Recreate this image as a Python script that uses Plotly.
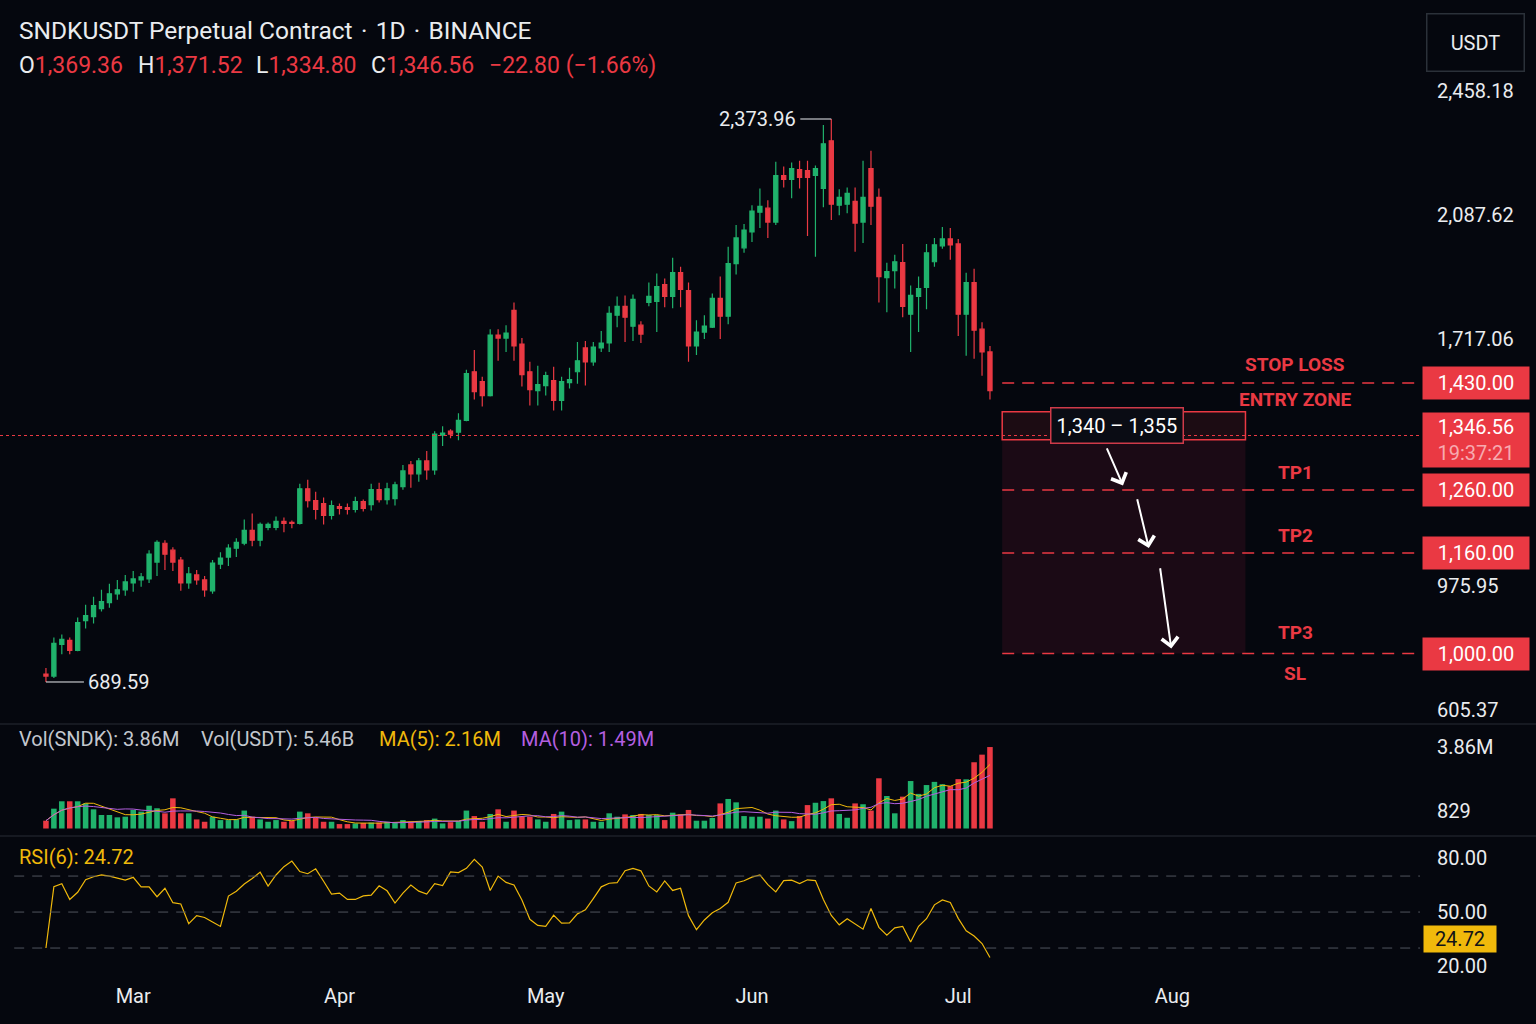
import plotly.graph_objects as go
import pandas as pd

# ------------------------------------------------------------------
# data
# ------------------------------------------------------------------

# daily candles, no trading on Sundays; candles sit at noon so the
# Sunday break never cuts a Monday body in half
dates = pd.bdate_range("2026-02-17", "2026-07-06", freq="C",
                       weekmask="Mon Tue Wed Thu Fri Sat") + pd.Timedelta(hours=12)

opens = [
    713.3, 707.4, 802.3, 814.1, 784.4, 873.4, 885.3, 909.1, 926.8, 953.5,
    965.4, 986.1, 995.0, 998.0, 1048.4, 1104.7, 1084.0, 1054.3, 986.1, 1009.8,
    995.0, 962.4, 1042.5, 1063.2, 1089.9, 1104.7, 1143.3, 1113.6, 1152.2, 1152.2,
    1170.0, 1167.1, 1164.1, 1267.8, 1232.3, 1223.4, 1187.8, 1214.5, 1211.5, 1205.6,
    1229.3, 1220.4, 1264.9, 1235.3, 1238.2, 1273.8, 1339.0, 1312.4, 1350.9, 1324.2,
    1428.1, 1439.9, 1437.0, 1472.5, 1617.8, 1588.1, 1546.6, 1727.5, 1718.6, 1801.6,
    1700.8, 1617.8, 1561.5, 1576.3, 1591.1, 1531.8, 1585.2, 1617.8, 1689.0, 1647.4,
    1689.0, 1703.8, 1786.8, 1813.5, 1754.2, 1757.2, 1825.3, 1828.3, 1878.7, 1843.1,
    1914.3, 1860.9, 1694.9, 1736.4, 1751.2, 1837.2, 1783.9, 1941.0, 1988.4, 2035.9,
    2095.2, 2107.1, 2065.6, 2204.9, 2193.1, 2222.7, 2219.8, 2204.9, 2166.4, 2308.7,
    2116.0, 2119.0, 2127.8, 2065.6, 2225.7, 2139.7, 1899.5, 1920.3, 1944.0, 1789.8,
    1843.1, 1869.8, 1946.9, 1994.4, 2015.2, 2000.3, 1789.8, 1884.7, 1745.3, 1677.1,
]
highs = [
    731.1, 823.0, 831.9, 823.0, 882.3, 920.9, 944.6, 965.4, 983.2, 995.0,
    1009.8, 1021.7, 1015.8, 1084.0, 1113.6, 1113.6, 1092.9, 1063.2, 1033.6, 1024.7,
    1006.9, 1054.3, 1078.1, 1101.8, 1119.6, 1176.0, 1193.7, 1167.1, 1167.1, 1184.9,
    1181.9, 1173.0, 1282.7, 1294.6, 1259.0, 1241.2, 1232.3, 1223.4, 1223.4, 1244.1,
    1235.3, 1282.7, 1285.6, 1285.6, 1288.6, 1339.0, 1350.9, 1359.8, 1380.5, 1439.9,
    1454.7, 1445.8, 1493.3, 1623.7, 1683.0, 1603.0, 1745.3, 1745.3, 1757.2, 1825.3,
    1718.6, 1647.4, 1635.6, 1617.8, 1632.6, 1603.0, 1629.7, 1706.8, 1709.7, 1706.8,
    1739.4, 1813.5, 1843.1, 1846.1, 1849.1, 1769.0, 1884.7, 1911.4, 1896.6, 1958.8,
    1932.1, 1884.7, 1772.0, 1786.8, 1852.1, 1902.5, 1991.4, 2056.7, 2059.6, 2116.0,
    2166.4, 2130.8, 2246.4, 2231.6, 2243.5, 2249.4, 2249.4, 2234.6, 2356.2, 2373.96,
    2163.5, 2169.3, 2169.3, 2249.4, 2279.1, 2166.4, 1944.0, 1967.7, 2000.3, 1875.8,
    1902.5, 2000.3, 2018.1, 2050.7, 2047.8, 2015.2, 1914.3, 1926.1, 1766.0, 1694.9,
]
lows = [
    689.59, 701.5, 772.6, 772.6, 781.5, 849.7, 864.5, 900.2, 912.0, 935.7,
    947.6, 959.5, 974.3, 986.1, 1006.9, 1024.7, 1021.7, 962.4, 968.4, 980.2,
    944.6, 953.5, 1027.7, 1036.6, 1063.2, 1098.8, 1095.9, 1095.9, 1143.3, 1143.3,
    1137.4, 1149.3, 1161.1, 1211.5, 1176.0, 1161.1, 1176.0, 1190.8, 1190.8, 1196.7,
    1199.7, 1202.6, 1226.4, 1220.4, 1217.5, 1264.9, 1270.8, 1288.6, 1294.6, 1309.4,
    1395.4, 1419.1, 1413.2, 1469.6, 1534.7, 1514.0, 1543.6, 1650.4, 1677.1, 1650.4,
    1573.3, 1517.0, 1517.0, 1546.6, 1502.1, 1502.1, 1567.4, 1582.2, 1576.3, 1635.6,
    1677.1, 1677.1, 1751.2, 1706.8, 1709.7, 1703.8, 1813.5, 1736.4, 1810.5, 1807.5,
    1810.5, 1647.4, 1668.2, 1715.7, 1748.3, 1715.7, 1760.1, 1908.4, 1973.6, 2006.2,
    2047.8, 2018.1, 2056.7, 2169.3, 2136.7, 2166.4, 2024.0, 1961.8, 2110.1, 2071.5,
    2086.3, 2092.3, 1976.6, 2003.3, 2056.7, 1825.3, 1795.7, 1866.9, 1780.9, 1677.1,
    1736.4, 1804.6, 1932.1, 1985.5, 1952.9, 1724.5, 1665.3, 1656.3, 1606.0, 1534.7,
]
closes = [
    707.4, 805.2, 817.1, 784.4, 867.5, 888.3, 917.9, 929.8, 953.5, 965.4,
    989.1, 998.0, 1003.9, 1072.1, 1107.7, 1072.1, 1048.4, 986.1, 1012.8, 995.0,
    965.4, 1045.4, 1060.2, 1089.9, 1107.7, 1143.3, 1113.6, 1161.1, 1161.1, 1170.0,
    1164.1, 1164.1, 1267.8, 1232.3, 1205.6, 1187.8, 1217.5, 1208.6, 1205.6, 1229.3,
    1208.6, 1264.9, 1235.3, 1267.8, 1279.7, 1321.2, 1312.4, 1350.9, 1324.2, 1431.0,
    1434.0, 1431.0, 1472.5, 1611.9, 1558.5, 1546.6, 1727.5, 1718.6, 1733.4, 1694.9,
    1609.0, 1564.4, 1579.2, 1606.0, 1531.8, 1588.1, 1594.0, 1650.4, 1647.4, 1691.9,
    1703.8, 1792.7, 1813.5, 1780.9, 1834.2, 1730.5, 1843.1, 1872.8, 1843.1, 1914.3,
    1863.9, 1694.9, 1736.4, 1754.2, 1837.2, 1783.9, 1941.0, 2018.1, 2041.8, 2098.2,
    2113.0, 2065.6, 2204.9, 2193.1, 2225.7, 2199.0, 2199.0, 2225.7, 2299.8, 2119.0,
    2139.7, 2151.6, 2062.6, 2139.7, 2113.0, 1902.5, 1917.3, 1946.9, 1813.5, 1846.1,
    1866.9, 1973.6, 1997.4, 2015.2, 1997.4, 1789.8, 1884.7, 1742.3, 1677.1, 1561.5,
]

# volume in millions of SNDK
volumes = [
    0.37, 0.94, 1.29, 1.29, 1.29, 1.19, 0.91, 0.64, 0.64, 0.53,
    0.56, 0.88, 0.80, 1.08, 0.96, 0.72, 1.43, 0.72, 0.72, 0.43,
    0.32, 0.56, 0.40, 0.40, 0.43, 0.85, 0.56, 0.43, 0.32, 0.40,
    0.32, 0.36, 0.80, 0.72, 0.53, 0.32, 0.32, 0.21, 0.21, 0.24,
    0.26, 0.28, 0.28, 0.32, 0.28, 0.40, 0.32, 0.36, 0.40, 0.47,
    0.24, 0.30, 0.36, 0.85, 0.59, 0.32, 0.69, 0.91, 0.32, 0.85,
    0.56, 0.56, 0.43, 0.32, 0.69, 0.80, 0.40, 0.43, 0.43, 0.32,
    0.32, 0.72, 0.56, 0.67, 0.64, 0.69, 0.64, 0.64, 0.40, 0.75,
    0.67, 0.88, 0.37, 0.37, 0.50, 1.19, 1.40, 1.24, 0.59, 0.56,
    0.56, 0.47, 0.85, 0.43, 0.35, 0.59, 1.11, 1.22, 1.30, 1.43,
    0.69, 0.51, 1.19, 1.15, 0.85, 2.38, 1.54, 0.72, 1.51, 2.25,
    1.64, 2.06, 2.21, 2.10, 2.01, 2.34, 2.33, 3.14, 3.50, 3.86,
]

rsi6 = [
    30.0, 64.1, 65.7, 57.0, 61.0, 68.0, 69.6, 70.6, 70.0, 69.0,
    67.8, 69.3, 64.0, 64.0, 58.5, 63.2, 55.2, 54.5, 43.5, 48.0,
    47.0, 44.5, 42.0, 58.9, 61.6, 65.6, 68.6, 72.2, 64.4, 70.6,
    75.2, 78.3, 72.5, 71.3, 74.0, 67.1, 60.0, 60.5, 57.0, 57.0,
    59.0, 59.4, 64.6, 61.8, 55.0, 60.5, 65.0, 61.6, 60.0, 65.8,
    64.7, 72.3, 71.9, 74.3, 79.3, 75.0, 62.0, 70.0, 66.5, 65.0,
    56.7, 46.0, 42.6, 42.0, 48.3, 43.8, 44.0, 49.0, 51.2, 57.5,
    64.0, 66.0, 66.3, 73.0, 74.3, 72.9, 64.5, 61.2, 67.3, 62.0,
    63.2, 48.0, 40.2, 45.6, 49.6, 52.0, 55.4, 66.2, 67.4, 69.4,
    70.6, 65.2, 61.2, 67.5, 67.7, 65.8, 67.9, 67.5, 57.0, 48.1,
    42.9, 46.3, 43.2, 40.5, 52.0, 41.5, 37.2, 41.2, 42.0, 33.3,
    42.1, 46.3, 54.0, 56.7, 55.3, 46.5, 39.6, 36.7, 32.5, 24.72,
]

month_ticks = ["2026-03-02 12:00", "2026-04-01 12:00", "2026-05-01 12:00",
               "2026-06-01 12:00", "2026-07-01 12:00", "2026-08-01 12:00"]
month_labels = ["Mar", "Apr", "May", "Jun", "Jul", "Aug"]
price_ticks = [2458.18, 2087.62, 1717.06, 975.95, 605.37]
vol_ticks = [829e3, 3.86e6]
vol_tick_labels = ["829", "3.86M"]
rsi_ticks = [80, 50, 20]
rsi_levels = [70, 50, 30]

# trade plan drawn over the chart
stop_loss = 1430.0
entry_low, entry_high = 1340.0, 1355.0
targets = [1260.0, 1160.0, 1000.0]
target_names = ["TP1", "TP2", "TP3"]
last_price = 1346.56
countdown = "19:37:21"
zone_start, zone_end = "2026-07-08 01:00", "2026-08-12 17:00"

# ------------------------------------------------------------------
# styling
# ------------------------------------------------------------------
BG = "#05070e"
TEXT = "#eaecef"
SOFT = "#c3c7ce"
GREEN = "#20b26c"
RED = "#ea3943"
YELLOW = "#f0b90b"
PURPLE = "#b45fe0"
LINE = "#1c2028"

PLOT_W, PLOT_H = 1420, 970     # plotting area in px, price scale lives in the right margin


def px(x):
    return x / PLOT_W


def py(y):
    return 1 - y / PLOT_H


X_RANGE = ["2026-02-10 17:00", "2026-09-07 17:00"]
PRICE_RANGE = [563.9, 2730.0]
PLAN_RANGE = [888.0, 2038.8]
VOL_RANGE = [-0.355e6, 4.905e6]
RSI_RANGE = [17.8, 91.7]
breaks = [dict(bounds=["sun", "mon"])]
plain = dict(showgrid=False, zeroline=False, showline=False, fixedrange=True)

vol = pd.Series(volumes) * 1e6
ma5 = vol.rolling(5, min_periods=1).mean()
ma10 = vol.rolling(10, min_periods=1).mean()
vol_colors = [GREEN if c >= o else RED for o, c in zip(opens, closes)]

fig = go.Figure()

fig.add_trace(go.Candlestick(
    x=dates, open=opens, high=highs, low=lows, close=closes,
    increasing=dict(line=dict(color=GREEN, width=1.2), fillcolor=GREEN),
    decreasing=dict(line=dict(color=RED, width=1.2), fillcolor=RED),
    whiskerwidth=0, xaxis="x", yaxis="y", hoverinfo="skip"))

fig.add_trace(go.Bar(x=dates, y=vol, marker=dict(color=vol_colors, line=dict(width=0)),
                     xaxis="x2", yaxis="y2", hoverinfo="skip"))
fig.add_trace(go.Scatter(x=dates, y=ma5, mode="lines", line=dict(color=YELLOW, width=1),
                         xaxis="x2", yaxis="y2", hoverinfo="skip"))
fig.add_trace(go.Scatter(x=dates, y=ma10, mode="lines", line=dict(color=PURPLE, width=1),
                         xaxis="x2", yaxis="y2", hoverinfo="skip"))

fig.add_trace(go.Scatter(x=dates, y=rsi6, mode="lines", line=dict(color=YELLOW, width=1.2),
                         xaxis="x3", yaxis="y3", hoverinfo="skip"))

# trade plan levels (own overlay scale)
fig.add_trace(go.Scatter(x=X_RANGE, y=[last_price, last_price], mode="lines",
                         line=dict(color=RED, width=1, dash="dot"),
                         xaxis="x", yaxis="y4", hoverinfo="skip"))
for lvl in [stop_loss] + targets:
    fig.add_trace(go.Scatter(x=[zone_start, X_RANGE[1]], y=[lvl, lvl], mode="lines",
                             line=dict(color=RED, width=1.5, dash="12px,8px"),
                             xaxis="x", yaxis="y4", hoverinfo="skip"))

shapes = [
    # shaded area from entry down to the last target
    dict(type="rect", xref="x", yref="y4", x0=zone_start, x1=zone_end,
         y0=targets[-1], y1=entry_low, fillcolor="rgba(140,30,60,0.16)",
         line=dict(width=0), layer="below"),
    # entry zone box
    dict(type="rect", xref="x", yref="y4", x0=zone_start, x1=zone_end,
         ysizemode="pixel", yanchor=entry_low, y0=0, y1=28,
         fillcolor="rgba(234,57,67,0.10)", line=dict(color=RED, width=1.5)),
    # panel separators
    dict(type="line", xref="paper", yref="paper", x0=0, x1=px(1536), y0=py(724), y1=py(724),
         line=dict(color=LINE, width=1.5)),
    dict(type="line", xref="paper", yref="paper", x0=0, x1=px(1536), y0=py(836), y1=py(836),
         line=dict(color=LINE, width=1.5)),
]
for lvl in rsi_levels:
    shapes.append(dict(type="line", xref="x3 domain", yref="y3", x0=0.01, x1=1, y0=lvl, y1=lvl,
                       line=dict(color="#50555e", width=1, dash="10px,8px")))

ann = []


def text(x, y, s, size=20, color=TEXT, **kw):
    ann.append(dict(xref="paper", yref="paper", x=x, y=y, text=s, showarrow=False,
                    xanchor=kw.pop("xanchor", "left"), yanchor=kw.pop("yanchor", "middle"),
                    font=dict(size=size, color=color), **kw))


# header
text(px(17), py(30), "SNDKUSDT Perpetual Contract\u2004·\u20041D\u2004·\u2004BINANCE", size=24.5)
ohlc = [("O", "1,369.36", 17), ("H", "1,371.52", 136), ("L", "1,334.80", 254),
        ("C", "1,346.56", 369)]
for k, v, xx in ohlc:
    text(px(xx), py(66), f"{k}<span style='color:{RED}'>{v}</span>", size=23)
text(px(487), py(66), "−22.80 (−1.66%)", size=23, color=RED)

# quote currency button
text(px(1475), py(43), "USDT", xanchor="center", width=86, height=46,
     bordercolor="#2b3139", borderwidth=1.5, borderpad=5)

# high / low markers
i_hi = max(range(len(highs)), key=lambda i: highs[i])
i_lo = min(range(len(lows)), key=lambda i: lows[i])
ann.append(dict(x=dates[i_hi], y=highs[i_hi], xref="x", yref="y", text=f"{highs[i_hi]:,.2f}",
                ax=-74, ay=0, showarrow=True, arrowhead=0, arrowwidth=1, arrowcolor=TEXT,
                borderpad=4, font=dict(size=20, color=TEXT)))
ann.append(dict(x=dates[i_lo], y=lows[i_lo], xref="x", yref="y", text=f"{lows[i_lo]:,.2f}",
                ax=73, ay=0, showarrow=True, arrowhead=0, arrowwidth=1, arrowcolor=TEXT,
                borderpad=4, font=dict(size=20, color=TEXT)))

# price boxes on the right scale
for lvl in [stop_loss] + targets:
    ann.append(dict(xref="paper", yref="y4", x=px(1476), y=lvl, text=f"{lvl:,.2f}",
                    showarrow=False, xanchor="center", yanchor="middle", width=100, height=26,
                    bgcolor=RED, borderpad=3, font=dict(size=20, color="white")))
ann.append(dict(xref="paper", yref="y4", x=px(1476), y=last_price, yshift=-4,
                text=f"{last_price:,.2f}<br><span style='color:#f7aab0'>{countdown}</span>",
                showarrow=False, xanchor="center", yanchor="middle", width=100, height=48,
                bgcolor=RED, borderpad=3, font=dict(size=20, color="white")))

# trade plan labels
plan_labels = [("STOP LOSS", stop_loss, 19), ("ENTRY ZONE", entry_low, 40)]
plan_labels += [(n, t, 17 if n != "TP3" else 21) for n, t in zip(target_names, targets)]
plan_labels += [("SL", targets[-1], -20)]
for name, lvl, shift in plan_labels:
    ann.append(dict(xref="paper", yref="y4", x=px(1295), y=lvl, yshift=shift,
                    text=f"<b>{name}</b>", showarrow=False, xanchor="center",
                    yanchor="middle", font=dict(size=19, color=RED)))

ann.append(dict(xref="paper", yref="y4", x=px(1117), y=entry_low, yshift=14,
                text=f"{entry_low:,.0f} – {entry_high:,.0f}", showarrow=False,
                xanchor="center", yanchor="middle", bgcolor="#0a0c14",
                bordercolor="#cf3a49", borderwidth=1.5, borderpad=5,
                font=dict(size=20, color="white")))

# arrows stepping down through the targets
steps = [(entry_low, targets[0], 1103, 1125, 8),
         (targets[0], targets[1], 1135, 1150, 8),
         (targets[1], targets[2], 1158, 1172, 14)]
for start, end, x_tail, x_head, gap in steps:
    ann.append(dict(xref="paper", yref="y4", x=px(x_head), y=end,
                    axref="pixel", ayref="y4", ax=x_tail - x_head, ay=start,
                    text="", showarrow=True, arrowhead=4, arrowsize=1.6, arrowwidth=2,
                    arrowcolor="white", standoff=5, startstandoff=gap))

# indicator legends
text(px(17), py(739), f"Vol(SNDK): {volumes[-1]:.2f}M", size=20, color=SOFT)
text(px(199), py(739), "Vol(USDT): 5.46B", size=20, color=SOFT)
text(px(377), py(739), "MA(5): 2.16M", size=20, color=YELLOW)
text(px(519), py(739), "MA(10): 1.49M", size=20, color=PURPLE)
text(px(17), py(857), f"RSI(6): {rsi6[-1]:.2f}", size=20, color=YELLOW)
ann.append(dict(xref="paper", yref="y3", x=px(1460), y=rsi6[-1], yshift=19,
                text=f"{rsi6[-1]:.2f}", showarrow=False, xanchor="center", yanchor="middle",
                width=68, height=22, bgcolor=YELLOW, borderpad=2,
                font=dict(size=20, color="#111318")))

fig.update_layout(
    width=1536, height=1024,
    margin=dict(l=0, r=116, t=0, b=54),
    paper_bgcolor=BG, plot_bgcolor=BG,
    font=dict(family="Roboto", color=TEXT, size=20),
    showlegend=False, hovermode=False,
    boxgap=0.25, bargap=0.3,
    xaxis=dict(domain=[0, 1], anchor="y", range=X_RANGE, rangebreaks=breaks,
               showticklabels=False, rangeslider=dict(visible=False), **plain),
    xaxis2=dict(domain=[0, 1], anchor="y2", matches="x", range=X_RANGE, rangebreaks=breaks,
                showticklabels=False, **plain),
    xaxis3=dict(domain=[0, 1], anchor="y3", matches="x", range=X_RANGE, rangebreaks=breaks,
                tickvals=month_ticks, ticktext=month_labels, ticks="", ticklabelstandoff=12,
                tickfont=dict(size=20, color=TEXT), **plain),
    yaxis=dict(domain=[py(724), 1], anchor="x", side="right", range=PRICE_RANGE,
               tickvals=price_ticks, ticktext=[f"{v:,.2f}" for v in price_ticks],
               ticks="", ticklabelstandoff=16, tickfont=dict(size=20, color=TEXT), **plain),
    yaxis2=dict(domain=[py(836), py(725)], anchor="x2", side="right", range=VOL_RANGE,
                tickvals=vol_ticks, ticktext=vol_tick_labels,
                ticks="", ticklabelstandoff=16, tickfont=dict(size=20, color=TEXT), **plain),
    yaxis3=dict(domain=[0, py(837)], anchor="x3", side="right", range=RSI_RANGE,
                tickvals=rsi_ticks, ticktext=[f"{v:.2f}" for v in rsi_ticks],
                ticks="", ticklabelstandoff=16, tickfont=dict(size=20, color=TEXT), **plain),
    yaxis4=dict(overlaying="y", anchor="x", side="right", range=PLAN_RANGE,
                visible=False, **plain),
    shapes=shapes,
    annotations=ann,
)

# the page's default body margin would shift the chart by 8px
fig.write_html("out.html",
               config={"displayModeBar": False},
               post_script="document.body.style.margin='0';"
                           "document.body.style.background='#05070e';")
